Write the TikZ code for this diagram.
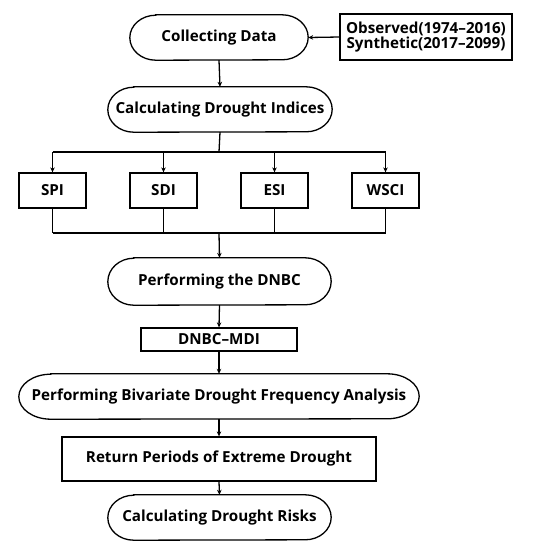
\documentclass[tikz,border=0pt]{standalone}
\usepackage{fontspec}
\setmainfont{Open Sans}[BoldFont={Open Sans Bold}]
\usetikzlibrary{arrows.meta}
\begin{document}
\begin{tikzpicture}[x=1pt,y=-1pt,
  lw/.style={line width=1.3pt},
  txt/.style={font=\bfseries\fontsize{15.2}{17}\selectfont, inner sep=0pt},
  boxnode/.style={txt, draw, lw, minimum height=#1},
  ovalnode/.style={txt, minimum height=45pt},
  arr/.style={lw, -{Stealth[length=5pt,width=4.5pt]}},
  ln/.style={lw}
]
\useasboundingbox (0,0) rectangle (536,550);
% ovals (text only; outlines drawn below)
\node[ovalnode, minimum width=178pt] (collect) at (219,37.5) {Collecting Data};
\node[ovalnode, minimum width=224pt] (calc) at (220,109.5) {Calculating Drought Indices};
\node[ovalnode, minimum width=223pt, minimum height=47pt] (dnbc) at (219.5,281.5) {Performing the DNBC};
\node[ovalnode, minimum width=400pt] (biv) at (219,396.5) {Performing Bivariate Drought Frequency Analysis};
\node[ovalnode, minimum width=223pt] (risk) at (219.5,517.5) {Calculating Drought Risks};
\foreach \n/\r/\h in {collect/26/22.5,calc/26/22.5,dnbc/26/23.5,biv/32/22.5,risk/26/22.5}{
  \draw[lw] ([xshift=\r pt]\n.north west) -- ([xshift=-\r pt]\n.north east)
    arc[start angle=90,end angle=-90,x radius=\r pt,y radius=\h pt]
    -- ([xshift=\r pt]\n.south west)
    arc[start angle=270,end angle=90,x radius=\r pt,y radius=\h pt] -- cycle;
}
% rectangles
\node[boxnode=46pt, minimum width=172pt, align=center, font=\bfseries\fontsize{15.2}{15.5}\selectfont] (obs) at (426,37) {Observed(1974--2016)\\Synthetic(2017--2099)};
\node[boxnode=35pt, minimum width=67pt] (spi) at (52.5,190.5) {SPI};
\node[boxnode=35pt, minimum width=67pt] (sdi) at (163.5,190.5) {SDI};
\node[boxnode=35pt, minimum width=67pt] (esi) at (274.5,190.5) {ESI};
\node[boxnode=35pt, minimum width=67pt] (wsci) at (385.5,190.5) {WSCI};
\node[boxnode=23pt, minimum width=156pt] (mdi) at (219,339.5) {DNBC--MDI};
\node[boxnode=44pt, minimum width=314pt] (ret) at (219,459) {Return Periods of Extreme Drought};
% junctions
\coordinate (top) at (219,152);
\coordinate (bot) at (219,233);
% connectors
\draw[arr] (obs.west) -- (collect.east);
\draw[arr] (collect.south) -- (calc.north);
\draw[ln] (calc.south) -- (top);
\draw[ln] (spi.north |- top) -- (wsci.north |- top);
\foreach \b in {spi,sdi,esi,wsci}{
  \draw[arr] (\b.north |- top) -- (\b.north);
  \draw[ln] (\b.south) -- (\b.south |- bot);
}
\draw[ln] (spi.south |- bot) -- (wsci.south |- bot);
\draw[arr] (bot) -- (dnbc.north);
\draw[arr] (dnbc.south) -- (mdi.north);
\draw[arr] (mdi.south) -- (biv.north);
\draw[arr] (biv.south) -- (ret.north);
\draw[arr] (ret.south) -- (risk.north);
\end{tikzpicture}
\end{document}
